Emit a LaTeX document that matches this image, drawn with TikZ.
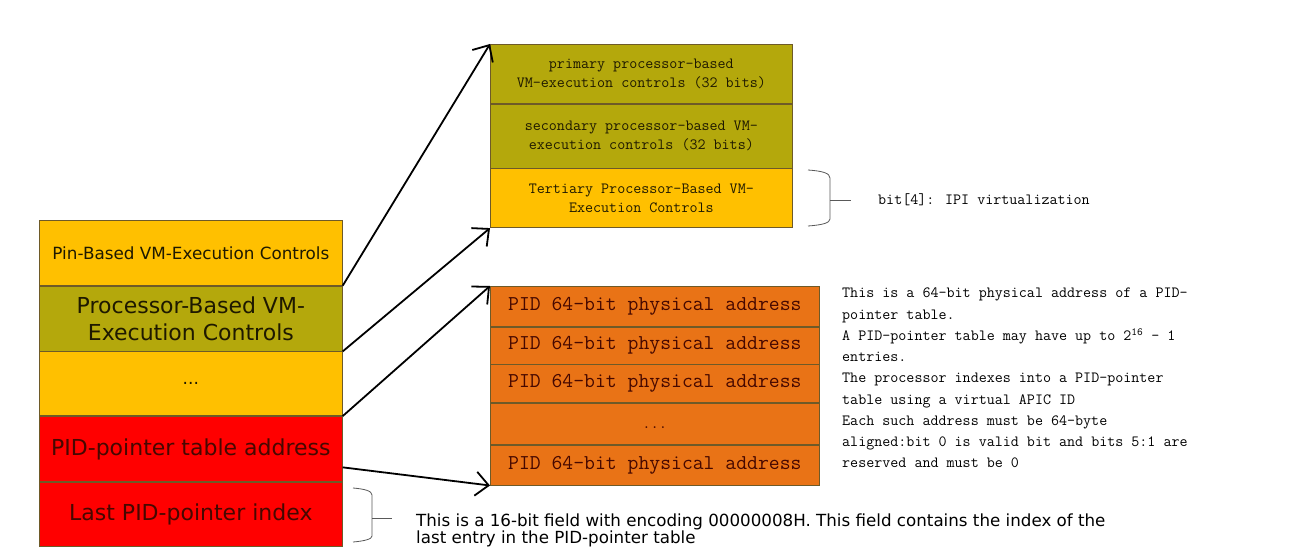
\documentclass[tikz,border=0pt]{standalone}
\usepackage{fontspec}
\setmainfont{DejaVu Sans}
\usetikzlibrary{arrows.meta,calc}
\definecolor{gold}{RGB}{255,192,0}
\definecolor{olivebox}{RGB}{180,168,12}
\definecolor{redbox}{RGB}{255,0,0}
\definecolor{orangebox}{RGB}{233,115,22}
\definecolor{edgec}{RGB}{110,90,40}
\definecolor{txtd}{RGB}{30,25,0}
\definecolor{txtr}{RGB}{70,8,0}
\begin{document}
\begin{tikzpicture}[x=1pt,y=-1pt,
  cell/.style={draw=edgec, line width=0.7pt, inner sep=0pt, anchor=north west, align=center},
  lcell/.style={cell, minimum width=303pt, text=txtd},
  tcell/.style={cell, minimum width=302pt, text=txtd, font=\ttfamily\fontsize{15.6}{19.5}\selectfont},
  pcell/.style={cell, minimum width=329pt, fill=orangebox, text=txtr, font=\ttfamily\fontsize{21.1}{22}\selectfont},
  link/.style={line width=1.8pt, -{Straight Barb[length=13pt,width=24pt,line width=1.8pt]}},
  bracec/.style={draw=black!65, line width=0.8pt},
  note/.style={inner sep=0pt, align=left, text=black}
]
\useasboundingbox (0,0) rectangle (1299,559);

% left stack
\node[lcell, fill=gold, minimum height=65pt, font=\fontsize{16.8}{20}\selectfont] (l1) at (39,220) {Pin-Based VM-Execution Controls};
\node[lcell, fill=olivebox, minimum height=65pt, font=\fontsize{22}{27}\selectfont] (l2) at (l1.south west) {Processor-Based VM-\\Execution Controls};
\node[lcell, fill=gold, minimum height=64pt, font=\fontsize{17}{20}\selectfont] (l3) at (l2.south west) {...};
\node[lcell, fill=redbox, text=txtr, minimum height=65pt, font=\fontsize{22}{27}\selectfont] (l4) at (l3.south west) {PID-pointer table address};
\node[lcell, fill=redbox, text=txtr, minimum height=64pt, font=\fontsize{22}{27}\selectfont] (l5) at (l4.south west) {Last PID-pointer index};

% top right stack
\node[tcell, fill=olivebox, minimum height=59pt] (t1) at (490,44) {primary processor-based\\VM-execution controls (32 bits)};
\node[tcell, fill=olivebox, minimum height=64pt] (t2) at (t1.south west) {secondary processor-based VM-\\execution controls (32 bits)};
\node[tcell, fill=gold, minimum height=59pt] (t3) at (t2.south west) {Tertiary Processor-Based VM-\\Execution Controls};

% PID-pointer table
\node[pcell, minimum height=40pt] (p1) at (490,286) {PID 64-bit physical address};
\node[pcell, minimum height=37pt] (p2) at (p1.south west) {PID 64-bit physical address};
\node[pcell, minimum height=38pt] (p3) at (p2.south west) {PID 64-bit physical address};
\node[pcell, minimum height=41pt, font=\ttfamily\fontsize{16}{18}\selectfont] (p4) at (p3.south west) {\vphantom{P}...};
\node[pcell, minimum height=40pt] (p5) at (p4.south west) {PID 64-bit physical address};

% arrows
\draw[link] (l1.south east) -- (t1.north west);
\draw[link] (l2.south east) -- (t3.south west);
\draw[link] (l3.south east) -- (p1.north west);
\draw[link] ($(l4.south east)!0.22!(l4.north east)$) -- (p5.south west);

% brace for tertiary controls
\draw[bracec] (808,170) .. controls (822,171) and (830,173) .. (830,178) -- (830,219) .. controls (830,223) and (822,225) .. (808,226);
\coordinate (bt) at (851,200);
\draw[bracec] (830,200) -- (bt);
\node[note, anchor=west, font=\ttfamily\fontsize{15.6}{18}\selectfont] (bitnote) at (878,200) {bit[4]: IPI virtualization};

% description of PID-pointer table
\node[note, anchor=north west, font=\ttfamily\fontsize{15.6}{21.25}\selectfont] (desc) at (842,288) {This is a 64-bit physical address of a PID-\\pointer table.\\A PID-pointer table may have up to 2\textsuperscript{16} - 1\\entries.\\The processor indexes into a PID-pointer\\table using a virtual APIC ID\\Each such address must be 64-byte\\aligned:bit 0 is valid bit and bits 5:1 are\\reserved and must be 0};

% brace for last PID-pointer index
\draw[bracec] (353,488) .. controls (365,489) and (372,491) .. (372,495) -- (372,536) .. controls (372,539) and (365,541) .. (353,542);
\coordinate (bb) at (392,518);
\draw[bracec] (372,518) -- (bb);
\node[note, anchor=north west, font=\fontsize{16.7}{17}\selectfont] (lastnote) at (416,514) {This is a 16-bit field with encoding 00000008H. This field contains the index of the\\last entry in the PID-pointer table};
\end{tikzpicture}
\end{document}
